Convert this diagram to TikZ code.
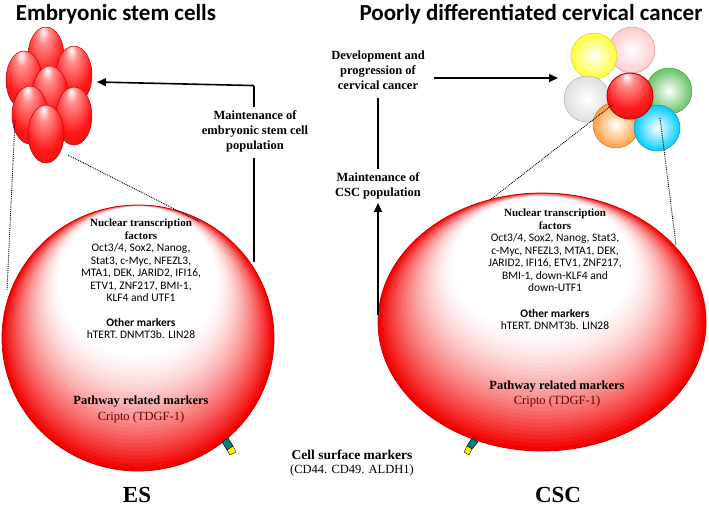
\documentclass[tikz,border=0pt]{standalone}
\usepackage{fontspec}
\setmainfont{Liberation Serif}
\newfontfamily\cellsans{Carlito}
\usetikzlibrary{arrows.meta}
\pgfdeclareradialshading{ballshade}{\pgfpoint{-4bp}{22bp}}{color(0bp)=(white); color(8bp)=(red!45); color(25bp)=(red!90); color(50bp)=(red!80!black)}
\colorlet{ballgray}{gray!25}
\colorlet{ballgreen}{green!60!black!60}
\colorlet{ballcyan}{cyan!80!blue}
\colorlet{ballpink}{pink!80}
\colorlet{ballyellow}{yellow!80}
\colorlet{ballorange}{orange!75}
\colorlet{celledge}{red!95!black}
\tikzset{every picture/.style={line width=0.75pt}}
\begin{document}
\begin{tikzpicture}[x=1pt,y=1pt,yscale=-1,xscale=1,
  title/.style={font=\cellsans\bfseries\fontsize{23}{26}\selectfont},
  label/.style={font=\bfseries\fontsize{12.5}{15}\selectfont,align=center},
  list/.style={font=\cellsans\fontsize{11.5}{12.5}\selectfont,align=center},
  big/.style={font=\bfseries\fontsize{23}{24}\selectfont},
  flow/.style={line width=1.6pt,-{Triangle[length=9pt,width=8pt]}},
  zoomline/.style={densely dotted,line width=0.9pt},
  balloon/.style={inner color=white, outer color=#1, draw=#1!80!black, line width=0.5pt}]
\useasboundingbox (0,0) rectangle (709,507);

% Cells (banded shading)
\foreach \cx/\cy/\rx/\ry/\dy/\drx/\dry in {138/338/136/133/58/58/60,542/322/164/129/58/76/62}{
  \foreach \i in {0,...,30}{
    \pgfmathsetmacro\t{\i/30}
    \pgfmathsetmacro\pct{100*(1-\t)^1.5}
    \fill[celledge!\pct!white] (\cx,\cy-\dy*\t) ellipse [x radius=\rx-\drx*\t, y radius=\ry-\dry*\t];
  }
  \draw[red!80!black] (\cx,\cy) ellipse [x radius=\rx, y radius=\ry];
}

% ES cluster
\foreach \cx/\cy in {46/56,24/80,74/75,50/95,30/115,74/116,46/134}
  \shade[shading=ballshade, draw=red!80!black, line width=0.5pt] (\cx,\cy) ellipse [x radius=18, y radius=29];

% CSC cluster
\foreach \cx/\cy/\col in {632/50/ballpink,594/56/ballyellow,587/99/ballgray,669/91/ballgreen,616/125/ballorange,657/128/ballcyan}
  \shade[balloon=\col] (\cx,\cy) circle (23);
\shade[shading=ballshade, draw=red!80!black, line width=1pt] (630,96) circle (23);

% Zoom lines
\draw[zoomline] (15,120) -- (7,290);
\draw[zoomline] (68,155) -- (200,222);
\draw[zoomline] (612,105) -- (490,200);
\draw[zoomline] (660,118) -- (676,245);

% Titles
\node[title] (estitle) at (116,14) {Embryonic stem cells};
\node[title] (csctitle) at (531,14) {Poorly differentiated cervical cancer};

% Centre labels
\node[label] (devel) at (378,70) {Development and\\progression of\\cervical cancer};
\node[label] (esmaint) at (255,131) {Maintenance of\\embryonic stem cell\\population};
\node[label] (cscmaint) at (378,186) {Maintenance of\\CSC population};
\coordinate (escluster) at (97,82);
\coordinate (csccluster) at (558,78);
\coordinate (esedge) at (254,262);
\coordinate (cscedge) at (378,315);

% Connectors
\draw[line width=1.6pt] (esmaint.south -| esedge) ++(0,3) -- (esedge);
\draw[flow] (esmaint.north -| esedge) ++(0,-21) -- (escluster);
\draw[line width=1.6pt] (esmaint.north -| esedge) ++(0,-21) -- ++(0,21);
\draw[flow] (devel.east) ++(6,8) -- (csccluster);
\draw[line width=1.6pt] (devel.south) ++(0,5) -- (cscmaint.north);
\draw[flow] (cscedge) -- (cscmaint.south);

% ES text
\node[label,font=\bfseries\fontsize{11}{12.5}\selectfont] (esnuc) at (141,229) {Nuclear transcription\\factors};
\node[list,anchor=north] (eslist) at (141,240) {Oct3/4, Sox2, Nanog,\\Stat3, c-Myc, NFEZL3,\\MTA1, DEK, JARID2, IFI16,\\ETV1, ZNF217, BMI-1,\\KLF4 and UTF1};
\node[list,font=\cellsans\bfseries\fontsize{11.5}{12.5}\selectfont] (esother) at (141,322) {Other markers};
\node[list] (eshtert) at (141,335) {hTERT. DNMT3b. LIN28};
\node[label] (espath) at (141,402) {Pathway related markers};
\node[font=\fontsize{12.5}{14}\selectfont,text=red!40!black] (escripto) at (141,417) {Cripto (TDGF-1)};

% CSC text
\node[label,font=\bfseries\fontsize{11}{12.5}\selectfont] (cscnuc) at (555,219) {Nuclear transcription\\factors};
\node[list,anchor=north] (csclist) at (555,230) {Oct3/4, Sox2, Nanog, Stat3,\\c-Myc, NFEZL3, MTA1, DEK,\\JARID2, IFI16, ETV1, ZNF217,\\BMI-1,  down-KLF4 and\\down-UTF1};
\node[list,font=\cellsans\bfseries\fontsize{11.5}{12.5}\selectfont] (cscother) at (555,313) {Other markers};
\node[list] (cschtert) at (555,326) {hTERT. DNMT3b. LIN28};
\node[label] (cscpath) at (557,387) {Pathway related markers};
\node[font=\fontsize{12.5}{14}\selectfont,text=red!40!black] (csccripto) at (557,401) {Cripto (TDGF-1)};

% Surface markers
\draw[fill=teal, draw=black, line width=0.4pt] (222,442) -- (228,438) -- (233,446) -- (227,450) -- cycle;
\draw[fill=yellow, draw=black, line width=0.4pt] (227,450) -- (233,446) -- (236,452) -- (230,455) -- cycle;
\draw[fill=teal, draw=black, line width=0.4pt] (472,438) -- (478,442) -- (472,449) -- (467,446) -- cycle;
\draw[fill=yellow, draw=black, line width=0.4pt] (467,446) -- (472,449) -- (469,455) -- (464,452) -- cycle;
\node[label,font=\bfseries\fontsize{13.5}{15}\selectfont] (surface) at (352,455) {Cell surface markers};
\node[font=\fontsize{12.5}{14}\selectfont] (surfacelist) at (352,470) {(CD44. CD49. ALDH1)};

\node[big] (es) at (137,495) {ES};
\node[big] (csc) at (558,495) {CSC};
\end{tikzpicture}
\end{document}
